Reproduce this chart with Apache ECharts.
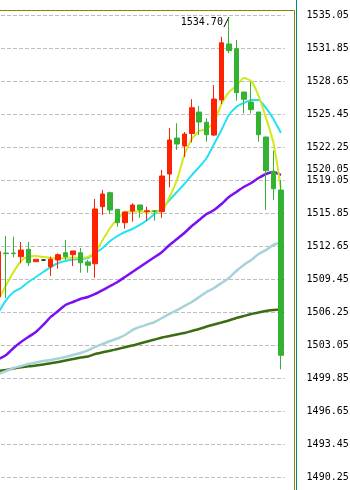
<!DOCTYPE html>
<html><head><meta charset="utf-8">
<script src="https://cdn.jsdelivr.net/npm/echarts@6/dist/echarts.min.js"></script>
<style>html,body{margin:0;padding:0;background:#fff}#c{width:350px;height:490px}</style>
</head><body><div id="c"></div>
<script>
const categories = ['1','2','3','4','5','6','7','8','9','10','11','12','13','14','15','16','17','18','19','20','21','22','23','24','25','26','27','28','29','30','31','32','33','34','35','36','37','38','39'];
const opens  = [1507.73,1511.97,1511.97,1511.61,1512.33,1511.13,1511.29,1510.64,1511.29,1512.00,1511.81,1512.00,1511.10,1510.93,1516.46,1517.82,1516.21,1514.91,1516.04,1516.63,1516.00,1516.07,1515.98,1519.63,1523.12,1522.35,1523.56,1525.64,1524.65,1523.41,1526.81,1532.24,1531.78,1527.58,1526.61,1525.64,1523.22,1519.89,1518.08];
const closes = [1512.10,1511.91,1511.91,1512.26,1511.03,1511.36,1511.29,1511.36,1511.81,1511.61,1512.17,1511.03,1510.78,1516.24,1517.69,1516.14,1514.91,1515.95,1516.63,1516.14,1516.07,1516.01,1519.44,1522.93,1522.54,1523.51,1526.06,1524.67,1523.44,1526.90,1532.36,1531.59,1527.52,1526.88,1525.87,1523.44,1519.95,1518.21,1502.05];
const lows   = [1507.41,1507.61,1511.55,1510.97,1510.71,1511.13,1511.29,1509.74,1510.45,1511.29,1510.71,1510.06,1510.06,1509.58,1515.66,1515.75,1514.52,1514.33,1515.01,1515.39,1515.10,1515.10,1515.39,1518.34,1521.96,1521.28,1522.69,1523.41,1522.76,1523.32,1526.42,1531.34,1526.74,1525.52,1525.52,1522.76,1516.14,1517.11,1500.69];
const highs  = [1512.26,1513.62,1513.55,1513.04,1513.04,1511.36,1511.29,1511.61,1511.94,1513.23,1512.17,1512.46,1511.29,1517.21,1518.08,1517.92,1516.21,1515.95,1516.79,1516.63,1516.46,1516.07,1520.02,1524.09,1524.55,1523.70,1526.89,1526.23,1525.03,1528.26,1532.95,1534.70,1532.63,1527.58,1528.55,1525.64,1523.22,1521.89,1519.05];
const maYellow = [1507.51,1508.87,1510.13,1511.20,1511.63,1511.68,1511.58,1511.49,1511.44,1511.49,1511.53,1511.49,1511.58,1512.07,1513.23,1514.40,1515.27,1515.95,1516.00,1516.00,1515.95,1516.00,1516.04,1517.40,1519.05,1521.47,1523.03,1523.80,1524.00,1524.67,1526.42,1527.58,1528.17,1528.94,1528.65,1527.20,1525.06,1522.64,1518.27];
const maCyan = [1506.25,1507.41,1508.19,1508.58,1509.16,1509.64,1510.13,1510.61,1511.00,1511.20,1511.34,1511.39,1511.49,1511.97,1512.46,1513.13,1513.62,1514.01,1514.30,1514.69,1515.17,1515.75,1516.33,1517.11,1517.89,1518.66,1519.53,1520.31,1521.18,1522.54,1523.90,1525.35,1526.13,1526.52,1526.81,1526.81,1526.03,1524.97,1523.61];
const maPurple = [1501.69,1502.08,1502.76,1503.34,1503.83,1504.31,1504.99,1505.77,1506.35,1506.93,1507.22,1507.51,1507.70,1508.00,1508.38,1508.77,1509.16,1509.64,1510.13,1510.61,1511.10,1511.58,1512.07,1512.75,1513.33,1513.91,1514.59,1515.17,1515.75,1516.14,1516.72,1517.40,1517.89,1518.37,1518.76,1519.24,1519.63,1519.83,1519.53];
const maLightBlue = [1500.24,1500.53,1500.82,1501.01,1501.21,1501.35,1501.50,1501.60,1501.74,1501.89,1502.08,1502.27,1502.52,1502.86,1503.15,1503.44,1503.68,1504.02,1504.50,1504.80,1505.04,1505.28,1505.67,1506.06,1506.44,1506.83,1507.22,1507.70,1508.19,1508.58,1509.06,1509.55,1510.23,1510.81,1511.29,1511.87,1512.26,1512.75,1512.99];
const maDarkGreen = [1500.53,1500.63,1500.77,1500.89,1500.99,1501.06,1501.16,1501.29,1501.40,1501.55,1501.69,1501.83,1501.94,1502.18,1502.34,1502.50,1502.66,1502.84,1503.00,1503.20,1503.39,1503.58,1503.78,1503.92,1504.07,1504.21,1504.41,1504.60,1504.84,1505.04,1505.23,1505.43,1505.67,1505.86,1506.06,1506.20,1506.35,1506.44,1506.51];
const yMin = 1487.05, yMax = 1538.25, yStep = 3.2;
const extraPriceLabel = 1520.05;
const highLabelIndex = 31;

const chart = echarts.init(document.getElementById('c'), null, {renderer: 'canvas'});
const candleData = categories.map((c, i) => {
  const item = {value: [opens[i], closes[i], lows[i], highs[i]]};
  if (opens[i] === closes[i]) item.itemStyle = {color: '#000', color0: '#000', borderColor: '#000', borderColor0: '#000'};
  return item;
});
function ma(data, color, width) {
  return {type: 'line', data: data, symbol: 'none', smooth: 0.2, z: 2,
    lineStyle: {color: color, width: width}, silent: true};
}
const labelFont = {fontFamily: 'DejaVu Sans Mono', fontSize: 10};
chart.setOption({
  animation: false,
  backgroundColor: '#fff',
  grid: {left: -5, top: -18, width: 289.6, height: 528, containLabel: false, outerBoundsMode: 'none'},
  xAxis: {type: 'category', data: categories, boundaryGap: true, show: false},
  yAxis: {type: 'value', position: 'right', min: yMin, max: yMax, interval: yStep,
    axisLine: {show: false}, axisTick: {show: false},
    axisLabel: Object.assign({margin: 22, color: '#000', formatter: v => v.toFixed(2)}, labelFont),
    splitLine: {lineStyle: {color: '#bdbdbd', width: 1, type: [4, 2]}}},
  series: [
    {type: 'candlestick', data: candleData, barWidth: 5, z: 3,
      itemStyle: {color: '#ff2200', color0: '#33b233', borderColor: '#ff2200', borderColor0: '#33b233', borderWidth: 1}},
    ma(maDarkGreen, '#3d6b12', 2.5),
    ma(maLightBlue, '#a6d3d9', 2.5),
    ma(maPurple, '#7b0ff2', 2.5),
    ma(maCyan, '#22e2f2', 2),
    ma(maYellow, '#d3e81c', 2)
  ]
});
const hp = chart.convertToPixel({seriesIndex: 0}, [highLabelIndex, highs[highLabelIndex]]);
const ep = chart.convertToPixel({yAxisIndex: 0}, extraPriceLabel);
chart.setOption({
  graphic: [
    {type: 'line', shape: {x1: 0, y1: 10.5, x2: 294.5, y2: 10.5}, style: {stroke: '#858500', lineWidth: 1}},
    {type: 'line', shape: {x1: 294.5, y1: 10.5, x2: 294.5, y2: 490}, style: {stroke: '#858500', lineWidth: 1}},
    {type: 'line', shape: {x1: 296.5, y1: 0, x2: 296.5, y2: 490}, style: {stroke: '#008a8a', lineWidth: 1}},
    {type: 'line', shape: {x1: hp[0] - 5, y1: hp[1] + 8.5, x2: hp[0], y2: hp[1] - 1.5}, style: {stroke: '#000', lineWidth: 1}},
    {type: 'text', x: hp[0] - 6, y: hp[1] + 4, style: Object.assign({text: highs[highLabelIndex].toFixed(2), fill: '#000', align: 'right', verticalAlign: 'middle'}, labelFont)},
    {type: 'text', x: 306.6, y: ep, style: Object.assign({text: extraPriceLabel.toFixed(2), fill: '#000', align: 'left', verticalAlign: 'middle'}, labelFont)}
  ]
});
</script></body></html>
